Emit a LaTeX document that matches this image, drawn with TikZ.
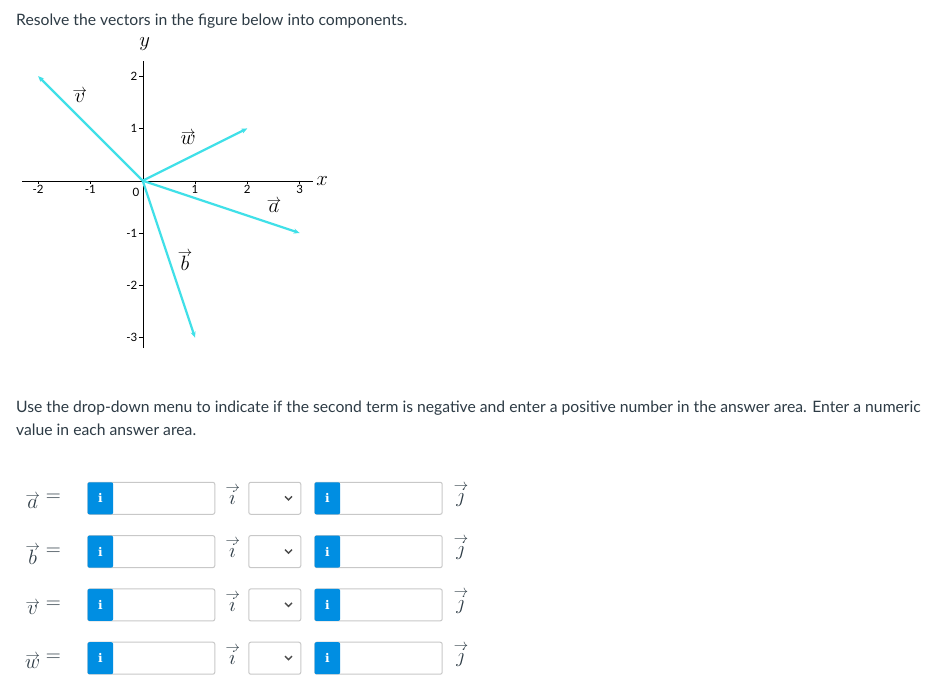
\documentclass[tikz,border=0pt]{standalone}
\usepackage{fontspec}
\setmainfont{Lato}
\newfontfamily\btnfont{DejaVu Serif}
\usetikzlibrary{arrows.meta,positioning}
\definecolor{vecblue}{RGB}{64,224,232}
\definecolor{btnblue}{RGB}{0,142,226}
\definecolor{boxgray}{RGB}{200,200,200}
\definecolor{txtgray}{RGB}{45,59,69}
% letter with an arrow close above it
\newcommand{\arr}[1]{\ensuremath{\mathord{\vbox{\offinterlineskip
  \halign{\hfil##\hfil\cr$\scriptstyle\rightarrow$\cr\noalign{\kern-0.5pt}$#1$\cr}}}}}
\tikzset{
  prose/.style={anchor=base west,inner sep=0pt,text=txtgray},
  vec/.style={vecblue,line width=2.2pt,-{Stealth[length=6pt,width=5pt]}},
  veclabel/.style={font=\fontsize{20}{22}\selectfont},
  ticklabel/.style={font=\fontsize{11.5}{13}\selectfont,inner sep=1pt},
  inbox/.style={draw=boxgray,line width=1pt,fill=white,rounded corners=2pt,
    minimum height=32pt,inner sep=0pt},
  infobtn/.style={fill=btnblue,rounded corners=2pt,minimum width=25.7pt,
    minimum height=32pt,inner sep=0pt,text=white,font=\btnfont\bfseries\fontsize{12}{14}\selectfont},
  unitvec/.style={font=\fontsize{20}{22}\selectfont,text=txtgray,inner sep=0pt},
  chev/.style={line width=1.4pt,draw=black!70}
}
\begin{document}
\begin{tikzpicture}[x=1pt,y=-1pt,font=\fontsize{15.7}{19}\selectfont]
  \useasboundingbox[fill=white] (0,0) rectangle (934,688);
  %% Question text
  \node[prose] (q1) at (16,25) {Resolve the vectors in the figure below into components.};
  \node[prose] (q2) at (16,412) {Use the drop-down menu to indicate if the second term is negative and enter a positive number in the answer area. Enter a numeric};
  \node[prose] (q3) at (16,435) {value in each answer area.};
  %% Graph
  \coordinate (O) at (142.7,180.7);
  \begin{scope}[shift={(O)},x=52.3pt,y=52.3pt]
    \draw[thin] (-2.3,0) -- (3.25,0);
    \draw[thin] (0,-3.2) -- (0,2.28);
    \foreach \i in {-2,-1,1,2,3}
      \draw[thin] (\i,0) -- (\i,-0.06) node[ticklabel,anchor=north] {\i};
    \foreach \j in {-3,-2,-1,1,2}
      \draw[thin] (0,\j) -- (-0.08,\j) node[ticklabel,anchor=east] {\j};
    \node[ticklabel] (zero) at (-0.13,-0.22) {0};
    \node[veclabel] (xlab) at (3.43,0) {$x$};
    \node[veclabel] (ylab) at (0.04,2.62) {$y$};
    %% Vectors
    \coordinate (tip-a) at (3,-1);
    \coordinate (tip-b) at (1,-3);
    \coordinate (tip-v) at (-2,2);
    \coordinate (tip-w) at (2,1);
    \foreach \v in {a,b,v,w}
      \draw[vec] (O) -- (tip-\v);
    \node[veclabel] (lab-v) at (-1.2,1.62) {\arr{v}};
    \node[veclabel] (lab-w) at (0.87,0.82) {\arr{w}};
    \node[veclabel] (lab-a) at (2.51,-0.48) {\arr{a}};
    \node[veclabel] (lab-b) at (0.81,-1.54) {\arr{b}};
  \end{scope}
  %% Answer rows
  \foreach \v [count=\k from 0] in {a,b,v,w} {
    \coordinate (row-\v) at (0,{498.3+53.3*\k});
    \node[unitvec] (name-\v) at ([xshift=32.7pt,yshift=-3pt]row-\v) {\arr{\v}};
    \node[unitvec] (eq-\v) at ([xshift=53.3pt]row-\v) {$=$};
    \node[inbox,minimum width=127pt,anchor=west] (inA-\v) at ([xshift=87.3pt]row-\v) {};
    \node[infobtn,anchor=west] (btnA-\v) at (inA-\v.west) {i};
    \node[unitvec,right=10pt of inA-\v,yshift=3pt] (ivec-\v) {\arr{i}};
    \node[inbox,minimum width=52pt,anchor=west] (drop-\v) at ([xshift=248.3pt]row-\v) {};
    \draw[chev] ([xshift=-12.8pt]drop-\v.east) ++(-3.5,-2) -- ++(3.5,3.5) -- ++(3.5,-3.5);
    \node[inbox,minimum width=127.4pt,anchor=west] (inB-\v) at ([xshift=314.3pt]row-\v) {};
    \node[infobtn,anchor=west] (btnB-\v) at (inB-\v.west) {i};
    \node[unitvec,right=11pt of inB-\v,yshift=3pt] (jvec-\v) {\arr{j}};
  }
\end{tikzpicture}
\end{document}
